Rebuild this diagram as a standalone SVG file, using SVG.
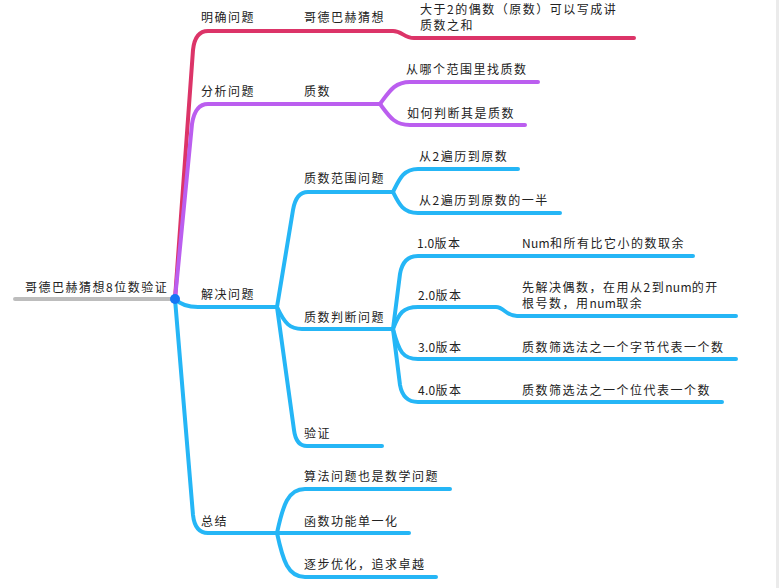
<svg xmlns="http://www.w3.org/2000/svg" width="779" height="588" viewBox="0 0 779 588">
<style>
  .c { fill: none; stroke-linecap: round; stroke-linejoin: round; stroke-width: 4; }
  .red { stroke: #dc3468; }
  .pur { stroke: #bb5eef; }
  .blu { stroke: #25b6f6; }
  .root { stroke: #bdbdbd; }
  text { font-family: "Noto Sans CJK SC", "Noto Sans", sans-serif; font-size: 12px; letter-spacing: 1.5px; fill: #222; }
  .l { letter-spacing: 0.3px; }
</style>
<rect x="0" y="0" width="779" height="588" fill="#ffffff"/>
<rect x="776" y="0" width="3" height="588" fill="#ebebeb"/>

<g id="connectors">
  <path class="c root" d="M15,299 L172,299"/>
  <path class="c red" d="M175,299 L193,50 Q195,31 208,31 L393,31 C402,31 404,38 414,38 L634,38"/>
  <path class="c pur" d="M175,299 L192,124 Q195,104 208,104 L380,104"/>
  <path class="c pur" d="M380,104 C389,92 394,82 410,82 L538,82"/>
  <path class="c pur" d="M380,104 C389,116 394,125 410,125 L525,125"/>
  <path class="c blu" d="M175,299 Q183,307 198,307 L277,307"/>
  <path class="c blu" d="M277,307 L293,210 Q296,192 308,192 L393,192"/>
  <path class="c blu" d="M393,192 C399,180 403,169 418,169 L518,169"/>
  <path class="c blu" d="M393,192 C399,204 403,213 418,213 L560,213"/>
  <path class="c blu" d="M277,307 C285,324 290,329 302,329 L393,329"/>
  <path class="c blu" d="M393,329 L400,274 Q403,256 418,256 L693,256"/>
  <path class="c blu" d="M393,329 C399,313 403,307 418,307 L496,307 C504,307 506,316 517,316 L736,316"/>
  <path class="c blu" d="M393,329 C399,352 403,359 418,359 L736,359"/>
  <path class="c blu" d="M393,329 L400,385 Q403,402 418,402 L722,402"/>
  <path class="c blu" d="M277,307 L294,430 Q296,446 307,446 L382,446"/>
  <path class="c blu" d="M175,299 L193,515 Q195,533 208,533 L277,533"/>
  <path class="c blu" d="M277,533 C283,505 288,489 305,489 L450,489"/>
  <path class="c blu" d="M277,533 L409,533"/>
  <path class="c blu" d="M277,533 C283,561 288,577 305,577 L436,577"/>
  <circle cx="175" cy="299" r="5" fill="#1677f5"/>
</g>

<g id="n-root"><text x="25" y="292">哥德巴赫猜想8位数验证</text></g>

<g id="n-mingque"><text x="201" y="22">明确问题</text></g>
<g id="n-gede"><text x="304" y="22">哥德巴赫猜想</text></g>
<g id="n-dayu"><text x="420" y="14">大于2的偶数（原数）可以写成讲</text><text x="420" y="30">质数之和</text></g>

<g id="n-fenxi"><text x="201" y="96">分析问题</text></g>
<g id="n-zhishu"><text x="304" y="96">质数</text></g>
<g id="n-cong"><text x="406" y="74">从哪个范围里找质数</text></g>
<g id="n-ruhe"><text x="407" y="118">如何判断其是质数</text></g>

<g id="n-jiejue"><text x="201" y="299">解决问题</text></g>
<g id="n-fanwei"><text x="304" y="183">质数范围问题</text></g>
<g id="n-bianli1"><text x="419" y="161">从2遍历到原数</text></g>
<g id="n-bianli2"><text x="419" y="205">从2遍历到原数的一半</text></g>
<g id="n-panduan"><text x="304" y="322">质数判断问题</text></g>
<g id="n-v1"><text x="417" y="248"><tspan class="l">1.0</tspan>版本</text></g>
<g id="n-v1d"><text x="522" y="248"><tspan class="l">Num</tspan>和所有比它小的数取余</text></g>
<g id="n-v2"><text x="418" y="300"><tspan class="l">2.0</tspan>版本</text></g>
<g id="n-v2d"><text x="522" y="292">先解决偶数，在用从2到<tspan class="l">num</tspan>的开</text><text x="522" y="308">根号数，用<tspan class="l">num</tspan>取余</text></g>
<g id="n-v3"><text x="418" y="352"><tspan class="l">3.0</tspan>版本</text></g>
<g id="n-v3d"><text x="522" y="352">质数筛选法之一个字节代表一个数</text></g>
<g id="n-v4"><text x="418" y="395"><tspan class="l">4.0</tspan>版本</text></g>
<g id="n-v4d"><text x="522" y="395">质数筛选法之一个位代表一个数</text></g>
<g id="n-yanzheng"><text x="304" y="438">验证</text></g>

<g id="n-zongjie"><text x="201" y="526">总结</text></g>
<g id="n-suanfa"><text x="304" y="481">算法问题也是数学问题</text></g>
<g id="n-hanshu"><text x="304" y="526">函数功能单一化</text></g>
<g id="n-zhubu"><text x="304" y="569">逐步优化，追求卓越</text></g>
</svg>
